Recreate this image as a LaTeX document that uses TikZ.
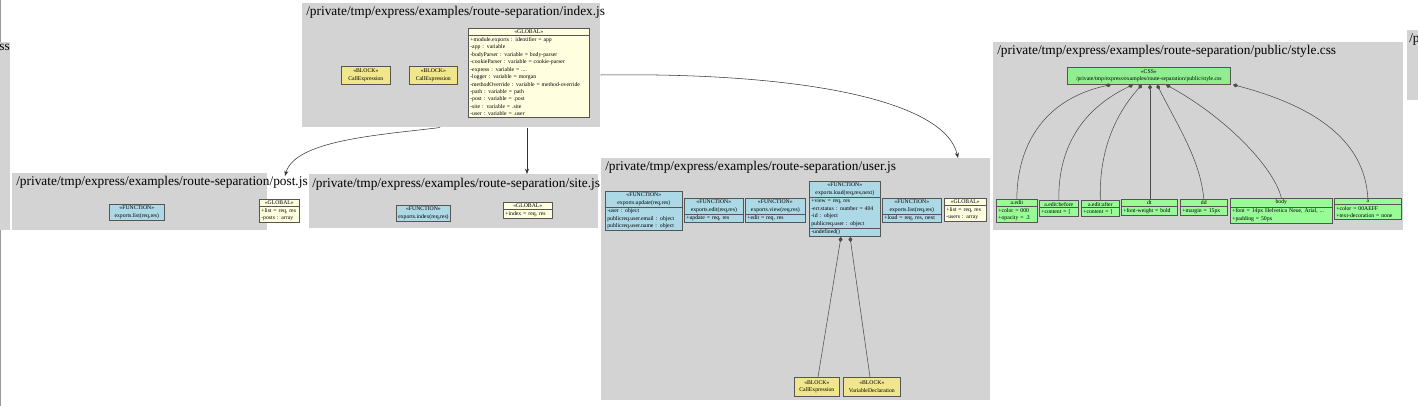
\documentclass[tikz,border=0pt]{standalone}
\usepackage{fontspec}
\setmainfont{Liberation Serif}
\usetikzlibrary{shapes.multipart,arrows.meta}
\definecolor{clu}{HTML}{D3D3D3}
\definecolor{fun}{HTML}{ADD8E6}
\definecolor{glo}{HTML}{FFFFE0}
\definecolor{blk}{HTML}{F0E68C}
\definecolor{css}{HTML}{90EE90}
\definecolor{rul}{HTML}{98FB98}
\definecolor{bd}{HTML}{555555}
\tikzset{
 clus/.style={fill=clu,draw=none,anchor=north west,inner sep=0pt},
 ttl/.style={anchor=north west,inner sep=0pt,font=\fontsize{10}{12}\selectfont},
 box/.style={draw=bd,line width=0.5pt,anchor=north west,inner xsep=1.5pt,inner ysep=1pt,
   font=\fontsize{4.3}{5.6}\selectfont,align=center},
 rs/.style={box,rectangle split,rectangle split parts=#1,align=left},
 fn/.style={fill=fun},
 gl/.style={fill=glo},
 bk/.style={fill=blk},
 rl/.style={fill=rul},
 cs/.style={fill=css},
 arr/.style={draw=black!80,line width=0.4pt,-{Stealth[length=4pt,width=3pt]}},
 dia/.style={draw=black!70,line width=0.4pt,{Diamond[length=4pt,width=3pt]}-},
}
\newcommand{\hd}[1]{{\centering #1\par}}
\begin{document}
\begin{tikzpicture}[x=0.75pt,y=-0.75pt]
\useasboundingbox (0,0) rectangle (1418,406);
\fill[white] (0,0) rectangle (1418,406);
\draw[black!40,line width=0.4pt] (0.5,0) -- (0.5,406);
% clusters
\node[clus,minimum width=10*0.75pt,minimum height=188*0.75pt] (cl0) at (0,42) {};
\node[anchor=north east,inner sep=0pt,font=\fontsize{10}{12}\selectfont] (t0) at (10,44) {ss};
\node[clus,minimum width=298*0.75pt,minimum height=124*0.75pt] (cidx) at (302,3) {};
\node[ttl] (tidx) at (306,6) {/private/tmp/express/examples/route-separation/index.js};
\node[clus,minimum width=255*0.75pt,minimum height=57*0.75pt] (cpost) at (12,173) {};
\node[ttl] (tpost) at (16,176) {/private/tmp/express/examples/route-separation/post.js};
\node[clus,minimum width=289*0.75pt,minimum height=54*0.75pt] (csite) at (309,174) {};
\node[ttl] (tsite) at (312,178) {/private/tmp/express/examples/route-separation/site.js};
\node[clus,minimum width=389*0.75pt,minimum height=242*0.75pt] (cuser) at (601,158) {};
\node[ttl] (tuser) at (605,161) {/private/tmp/express/examples/route-separation/user.js};
\node[clus,minimum width=410*0.75pt,minimum height=188*0.75pt] (ccss) at (993,42) {};
\node[ttl] (tcss) at (997,45) {/private/tmp/express/examples/route-separation/public/style.css};
\node[clus,minimum width=11*0.75pt,minimum height=70*0.75pt] (cr) at (1407,30) {};
\node[anchor=north west,inner sep=0pt,font=\fontsize{10}{12}\selectfont] (tr) at (1409,33) {/p};
% index
\node[box,bk,minimum width=49*0.75pt,minimum height=18*0.75pt] (ib1) at (341,66) {«BLOCK»\\CallExpression};
\node[box,bk,minimum width=48*0.75pt,minimum height=18*0.75pt] (ib2) at (409,66) {«BLOCK»\\CallExpression};
\node[rs=2,gl,text width=117*0.75pt] (ig) at (468,28) {\hd{«GLOBAL»}\nodepart{two}+module.exports : identifier = app\\-app : variable\\-bodyParser : variable = body-parser\\-cookieParser : variable = cookie-parser\\-express : variable = ....\\-logger : variable = morgan\\-methodOverride : variable = method-override\\-path : variable = path\\-post : variable = .post\\-site : variable = .site\\-user : variable = .user};
% post
\node[box,fn,minimum width=55*0.75pt,minimum height=16*0.75pt] (pf) at (109,204) {«FUNCTION»\\exports.list(req,res)};
\node[rs=2,gl,text width=36*0.75pt] (pg) at (259,199) {\hd{«GLOBAL»}\nodepart{two}+list = req, res\\-posts : array};
% site
\node[box,fn,minimum width=53*0.75pt,minimum height=16*0.75pt] (sf) at (396,205) {«FUNCTION»\\exports.index(req,res)};
\node[rs=2,gl,text width=45*0.75pt] (sg) at (503,202) {\hd{«GLOBAL»}\nodepart{two}+index = req, res};
% user
\node[rs=2,fn,text width=73*0.75pt] (uu) at (605,191) {\hd{«FUNCTION»\\exports.update(req,res)}\nodepart{two}-user : object\\publicreq.user.email : object\\publicreq.user.name : object};
\node[rs=2,fn,text width=55*0.75pt] (ue) at (684,198) {\hd{«FUNCTION»\\exports.edit(req,res)}\nodepart{two}+update = req, res};
\node[rs=2,fn,text width=56*0.75pt] (uv) at (745,198) {\hd{«FUNCTION»\\exports.view(req,res)}\nodepart{two}+edit = req, res};
\node[rs=3,fn,text width=67*0.75pt] (ul) at (809,181) {\hd{«FUNCTION»\\exports.load(req,res,next)}\nodepart{two}+view = req, res\\-err.status : number = 404\\-id : object\\publicreq.user : object\nodepart{three}-undefined()};
\node[rs=2,fn,text width=55*0.75pt] (ui) at (882,198) {\hd{«FUNCTION»\\exports.list(req,res)}\nodepart{two}+load = req, res, next};
\node[rs=2,gl,text width=38*0.75pt] (ug) at (944,198) {\hd{«GLOBAL»}\nodepart{two}+list = req, res\\-users : array};
\node[box,bk,minimum width=45*0.75pt,minimum height=19*0.75pt] (ub1) at (794,377) {«BLOCK»\\CallExpression};
\node[box,bk,minimum width=57*0.75pt,minimum height=19*0.75pt] (ub2) at (843,377) {«BLOCK»\\VariableDeclaration};
% css
\node[box,cs,minimum width=163*0.75pt,minimum height=17*0.75pt] (cc) at (1067,67) {«CSS»\\/private/tmp/express/examples/route-separation/public/style.css};
\node[rs=2,rl,text width=37*0.75pt] (r1) at (996,199) {\hd{a.edit}\nodepart{two}+color = 000\\+opacity = .3};
\node[rs=2,rl,text width=35*0.75pt] (r2) at (1039,200) {\hd{a.edit:before}\nodepart{two}+content = [};
\node[rs=2,rl,text width=34*0.75pt] (r3) at (1081,200) {\hd{a.edit:after}\nodepart{two}+content = ]};
\node[rs=2,rl,text width=52*0.75pt] (r4) at (1121,199) {\hd{dt}\nodepart{two}+font-weight = bold};
\node[rs=2,rl,text width=43*0.75pt] (r5) at (1180,199) {\hd{dd}\nodepart{two}+margin = 15px};
\node[rs=2,rl,text width=98*0.75pt] (r6) at (1230,198) {\hd{body}\nodepart{two}+font = 14px Helvetica Neue, Arial, ...\\+padding = 50px};
\node[rs=2,rl,text width=63*0.75pt] (r7) at (1334,198) {\hd{a}\nodepart{two}+color = 00AEFF\\+text-decoration = none};
% edges
\draw[arr] (cidx.south -| 440,0) .. controls (380,135) and (295,140) .. (tpost.north -| 285,0);
\draw[arr] (cidx.south -| 527,0) -- (csite.north -| 527,0);
\draw[arr] (cidx.east |- 0,75) .. controls (800,72) and (945,100) .. (cuser.north -| 958,0);
\draw[dia] (ul.south -| 841,0) -- (ub1.north -| 818,0);
\draw[dia] (ul.south -| 850,0) -- (ub2.north -| 870,0);
\draw[dia] (cc.south -| 1111,0) .. controls (1040,100) and (1017,150) .. (r1.north);
\draw[dia] (cc.south -| 1133,0) .. controls (1080,110) and (1058,150) .. (r2.north);
\draw[dia] (cc.south -| 1142,0) .. controls (1110,120) and (1099,160) .. (r3.north);
\draw[dia] (cc.south -| 1150,0) -- (r4.north -| 1150,0);
\draw[dia] (cc.south -| 1157,0) .. controls (1180,130) and (1200,160) .. (r5.north);
\draw[dia] (cc.south -| 1166,0) .. controls (1230,120) and (1275,170) .. (r6.north);
\draw[dia] (cc.south -| 1233,0) .. controls (1330,110) and (1365,150) .. (r7.north);
\end{tikzpicture}
\end{document}
